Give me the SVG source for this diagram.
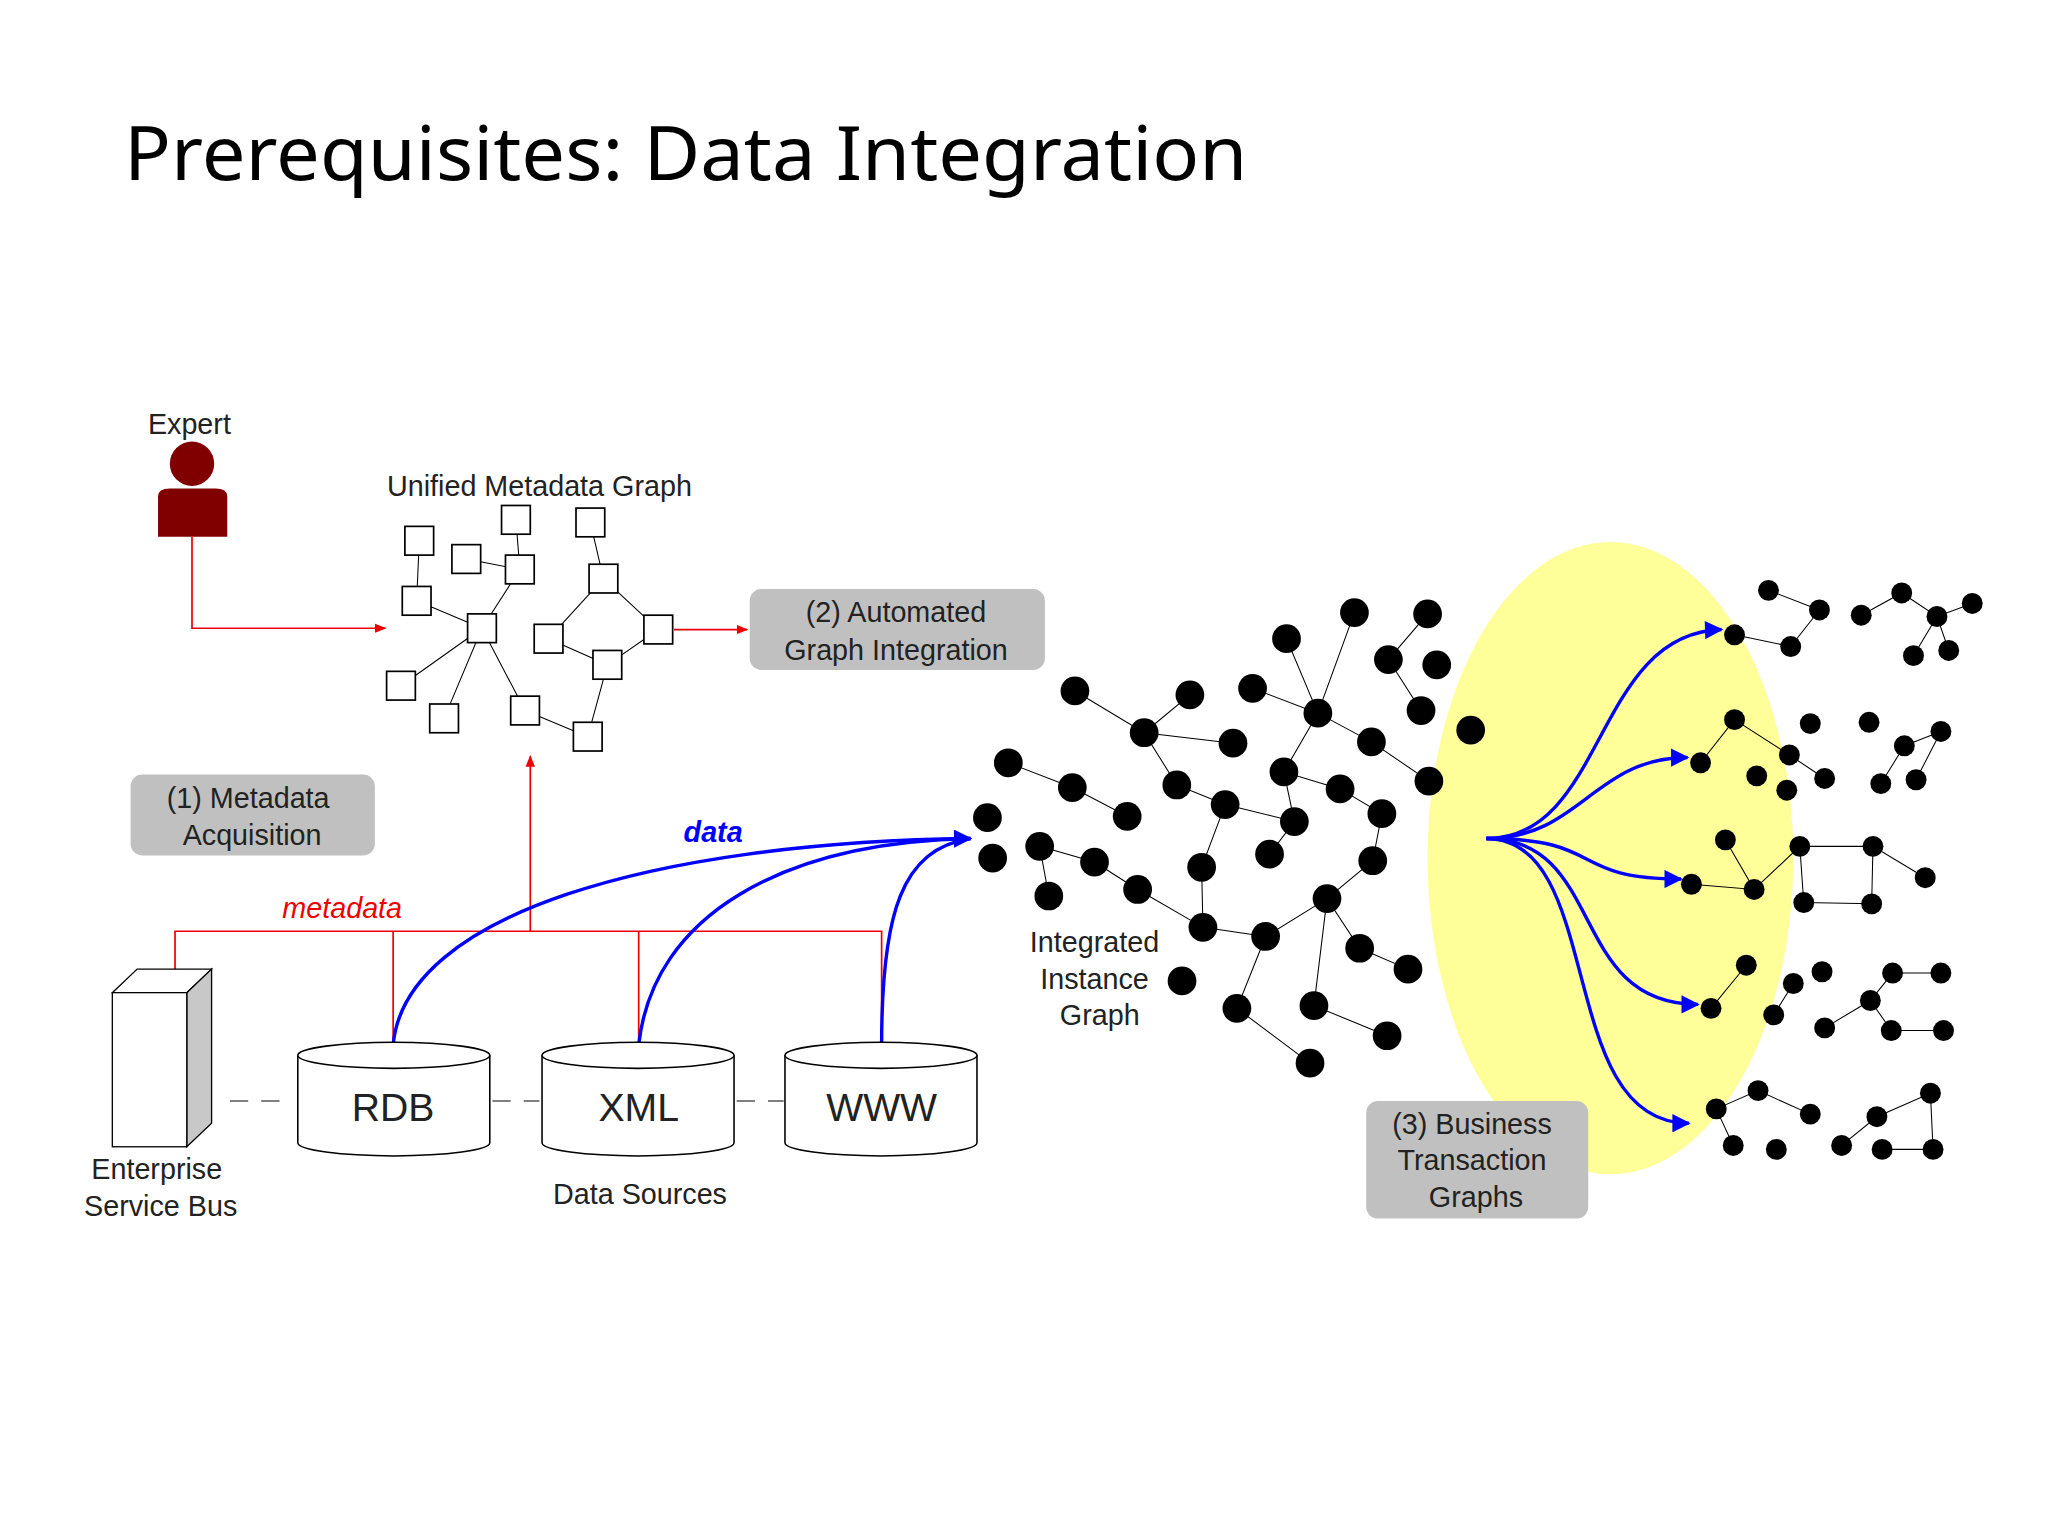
<svg xmlns="http://www.w3.org/2000/svg" width="2048" height="1536" viewBox="0 0 2048 1536">
<defs>
<style>
.t{font-family:"Liberation Sans",Arial,sans-serif;font-size:22px;fill:#222;text-anchor:middle}
.sq{fill:#fff;stroke:#000;stroke-width:1.3}
.e{stroke:#000;stroke-width:0.8;fill:none}
.red{stroke:#e00;stroke-width:1.3;fill:none}
.blue{stroke:#00f;stroke-width:2.6;fill:none}
.lbl{fill:#c0c0c0}
.n{fill:#000}
.cyl{fill:#fff;stroke:#000;stroke-width:1.2}
</style>
<marker id="ar" viewBox="0 0 10 10" refX="9" refY="5" markerWidth="9" markerHeight="9" markerUnits="userSpaceOnUse" orient="auto"><path d="M0,1 L10,5 L0,9 z" fill="#e00"/></marker>
<marker id="ab" viewBox="0 0 10 10" refX="9" refY="5" markerWidth="18" markerHeight="14" markerUnits="userSpaceOnUse" orient="auto"><path d="M0,0 L10,5 L0,10 z" fill="#00f"/></marker>
</defs>
<rect width="2048" height="1536" fill="#fff"/>
<g transform="scale(1.30612)">
<text x="95" y="138" font-family="Noto Sans,Open Sans,sans-serif" font-size="58" fill="#000" textLength="860" lengthAdjust="spacingAndGlyphs">Prerequisites: Data Integration</text>

<ellipse id="yellow" cx="1233" cy="657" rx="140" ry="242" fill="#ffff99"/>

<g id="expert">
<text class="t" x="145" y="332">Expert</text>
<circle cx="147" cy="355" r="17" fill="#800000"/>
<path d="M121,411 V380 Q121,374 130,374 H165 Q174,374 174,380 V411 Z" fill="#800000"/>
</g>

<g id="connectors">
<path class="red" d="M147,411 V481 H295" marker-end="url(#ar)"/>
<path class="red" d="M516,482 H572" marker-end="url(#ar)"/>
<path class="red" d="M134,742 V713 H675 V800 M301,713 V800 M489,713 V800"/>
<path class="red" d="M406,713 V579" marker-end="url(#ar)"/>
<path class="blue" d="M301,800 C310,700 500,645 743,642" marker-end="url(#ab)"/>
<path class="blue" d="M489,800 C500,700 600,645 743,642"/>
<path class="blue" d="M675,800 C675,700 690,650 743,642"/>
<g class="e" stroke-dasharray="14,10"><path d="M176,843 H220 M377,843 H413 M564,843 H600"/></g>
<g class="blue" stroke-width="2.2">
<path d="M1138,642 C1230,642 1220,485 1318,482" marker-end="url(#ab)"/>
<path d="M1138,642 C1210,642 1220,580 1292,580" marker-end="url(#ab)"/>
<path d="M1138,642 C1230,642 1200,673 1287,673" marker-end="url(#ab)"/>
<path d="M1138,642 C1230,642 1200,769 1300,769" marker-end="url(#ab)"/>
<path d="M1138,642 C1230,642 1190,860 1293,860" marker-end="url(#ab)"/>
</g>
</g>
<text x="262" y="703" class="t" style="fill:#e00;font-style:italic">metadata</text>
<text x="546" y="645" class="t" style="fill:#00f;font-style:italic;font-weight:bold">data</text>

<g id="metadata-graph">
<text class="t" x="413" y="380">Unified Metadata Graph</text>
<path class="e" d="M321,414 L319,460 M357,428 L398,436 M395,398 L398,436 M398,436 L369,481 M319,460 L369,481 M369,481 L307,525 M369,481 L340,550 M369,481 L402,544 M402,544 L450,564 M450,564 L465,509 M452,400 L462,443 M462,443 L420,489 M462,443 L504,482 M420,489 L465,509 M504,482 L465,509"/>
<g class="sq">
<rect x="310" y="403" width="22" height="22"/><rect x="384" y="387" width="22" height="22"/><rect x="441" y="389" width="22" height="22"/>
<rect x="346" y="417" width="22" height="22"/><rect x="387" y="425" width="22" height="22"/><rect x="451" y="432" width="22" height="22"/>
<rect x="308" y="449" width="22" height="22"/><rect x="358" y="470" width="22" height="22"/><rect x="409" y="478" width="22" height="22"/>
<rect x="493" y="471" width="22" height="22"/><rect x="454" y="498" width="22" height="22"/><rect x="296" y="514" width="22" height="22"/>
<rect x="329" y="539" width="22" height="22"/><rect x="391" y="533" width="22" height="22"/><rect x="439" y="553" width="22" height="22"/>
</g>
</g>

<g id="box2"><rect class="lbl" x="574" y="451" width="226" height="62" rx="9"/>
<text class="t" x="686" y="476">(2) Automated</text><text class="t" x="686" y="505">Graph Integration</text></g>
<g id="box1"><rect class="lbl" x="100" y="593" width="187" height="62" rx="9"/>
<text class="t" x="190" y="619">(1) Metadata</text><text class="t" x="193" y="647">Acquisition</text></g>
<g id="box3"><rect class="lbl" x="1046" y="843" width="170" height="90" rx="9"/>
<text class="t" x="1127" y="868">(3) Business</text><text class="t" x="1127" y="896">Transaction</text><text class="t" x="1130" y="924">Graphs</text></g>

<g id="esb">
<path d="M86,760 L105,742 H162 L143,760 Z" fill="#fff" stroke="#000"/>
<path d="M143,760 L162,742 V860 L143,878 Z" fill="#c8c8c8" stroke="#000"/>
<rect x="86" y="760" width="57" height="118" fill="#fff" stroke="#000"/>
<text class="t" x="120" y="903">Enterprise</text><text class="t" x="123" y="931">Service Bus</text>
</g>

<g id="rdb"><path class="cyl" d="M228,808 V875 A73.5,10 0 0 0 375,875 V808"/><ellipse class="cyl" cx="301.5" cy="808" rx="73.5" ry="10"/><text class="t" x="301" y="858" style="font-size:30px">RDB</text></g>
<g id="xml"><path class="cyl" d="M415,808 V875 A73.5,10 0 0 0 562,875 V808"/><ellipse class="cyl" cx="488.5" cy="808" rx="73.5" ry="10"/><text class="t" x="489" y="858" style="font-size:30px">XML</text></g>
<g id="www"><path class="cyl" d="M601,808 V875 A73.5,10 0 0 0 748,875 V808"/><ellipse class="cyl" cx="674.5" cy="808" rx="73.5" ry="10"/><text class="t" x="675" y="858" style="font-size:30px">WWW</text></g>
<text class="t" x="490" y="922">Data Sources</text>

<g id="instance-graph">
<path class="e" d="M823,529 L876,561 L944,569 M876,561 L901,601 M959,527 L1009,546 M985,489 L1009,546 M1037,469 L1009,546 M1093,470 L1063,505 L1088,544 M1009,546 L1050,568 L1094,598 M1009,546 L983,591 L1026,604 L1058,623 L1051,659 L1016,688 M983,591 L991,629 L972,654 M772,584 L821,603 L863,625 M796,648 L838,660 L871,681 M796,648 L803,686 M901,601 L938,616 L920,664 L921,710 M871,681 L921,710 L969,717 L1016,688 L1041,726 L1078,742 M969,717 L947,772 L1003,814 M1016,688 L1006,770 L1062,793 M938,616 L991,629 M911,532 L876,561"/>
<g class="n">
<circle cx="823" cy="529" r="11"/><circle cx="876" cy="561" r="11"/><circle cx="911" cy="532" r="11"/><circle cx="944" cy="569" r="11"/><circle cx="959" cy="527" r="11"/><circle cx="985" cy="489" r="11"/><circle cx="1009" cy="546" r="11"/><circle cx="1037" cy="469" r="11"/><circle cx="1093" cy="470" r="11"/><circle cx="1063" cy="505" r="11"/><circle cx="1100" cy="509" r="11"/><circle cx="1088" cy="544" r="11"/><circle cx="1050" cy="568" r="11"/><circle cx="1126" cy="559" r="11"/><circle cx="1094" cy="598" r="11"/><circle cx="772" cy="584" r="11"/><circle cx="821" cy="603" r="11"/><circle cx="863" cy="625" r="11"/><circle cx="901" cy="601" r="11"/><circle cx="938" cy="616" r="11"/><circle cx="983" cy="591" r="11"/><circle cx="1026" cy="604" r="11"/><circle cx="991" cy="629" r="11"/><circle cx="1058" cy="623" r="11"/><circle cx="756" cy="626" r="11"/><circle cx="760" cy="657" r="11"/><circle cx="796" cy="648" r="11"/><circle cx="838" cy="660" r="11"/><circle cx="803" cy="686" r="11"/><circle cx="871" cy="681" r="11"/><circle cx="920" cy="664" r="11"/><circle cx="972" cy="654" r="11"/><circle cx="1051" cy="659" r="11"/><circle cx="1016" cy="688" r="11"/><circle cx="921" cy="710" r="11"/><circle cx="969" cy="717" r="11"/><circle cx="1041" cy="726" r="11"/><circle cx="1078" cy="742" r="11"/><circle cx="905" cy="751" r="11"/><circle cx="947" cy="772" r="11"/><circle cx="1006" cy="770" r="11"/><circle cx="1062" cy="793" r="11"/><circle cx="1003" cy="814" r="11"/>
</g>
<text class="t" x="838" y="729">Integrated</text><text class="t" x="838" y="757">Instance</text><text class="t" x="842" y="785">Graph</text>
</g>

<g id="transaction-graphs">
<path class="e" d="M1354,452 L1393,467 L1371,495 L1328,486 M1425,471 L1456,454 L1483,472 L1510,462 M1483,472 L1465,502 M1483,472 L1492,498 M1328,551 L1370,578 L1397,596 M1302,584 L1328,551 M1458,571 L1486,560 L1467,597 M1458,571 L1440,600 M1321,643 L1343,681 L1295,677 M1343,681 L1378,648 L1434,648 L1474,672 M1434,648 L1433,692 L1381,691 L1378,648 M1310,772 L1337,739 M1358,777 L1373,753 M1397,787 L1432,766 L1449,745 L1486,745 M1432,766 L1448,789 L1488,789 M1314,849 L1346,835 L1386,853 M1410,877 L1437,855 L1478,837 L1480,880 M1314,849 L1327,877 M1441,880 L1480,880"/>
<g class="n">
<circle cx="1354" cy="452" r="8"/><circle cx="1393" cy="467" r="8"/><circle cx="1425" cy="471" r="8"/><circle cx="1456" cy="454" r="8"/><circle cx="1483" cy="472" r="8"/><circle cx="1510" cy="462" r="8"/><circle cx="1328" cy="486" r="8"/><circle cx="1371" cy="495" r="8"/><circle cx="1465" cy="502" r="8"/><circle cx="1492" cy="498" r="8"/>
<circle cx="1328" cy="551" r="8"/><circle cx="1386" cy="554" r="8"/><circle cx="1431" cy="553" r="8"/><circle cx="1486" cy="560" r="8"/><circle cx="1302" cy="584" r="8"/><circle cx="1370" cy="578" r="8"/><circle cx="1345" cy="594" r="8"/><circle cx="1368" cy="605" r="8"/><circle cx="1397" cy="596" r="8"/><circle cx="1440" cy="600" r="8"/><circle cx="1458" cy="571" r="8"/><circle cx="1467" cy="597" r="8"/>
<circle cx="1321" cy="643" r="8"/><circle cx="1378" cy="648" r="8"/><circle cx="1434" cy="648" r="8"/><circle cx="1474" cy="672" r="8"/><circle cx="1295" cy="677" r="8"/><circle cx="1343" cy="681" r="8"/><circle cx="1381" cy="691" r="8"/><circle cx="1433" cy="692" r="8"/>
<circle cx="1337" cy="739" r="8"/><circle cx="1395" cy="744" r="8"/><circle cx="1449" cy="745" r="8"/><circle cx="1486" cy="745" r="8"/><circle cx="1373" cy="753" r="8"/><circle cx="1310" cy="772" r="8"/><circle cx="1358" cy="777" r="8"/><circle cx="1397" cy="787" r="8"/><circle cx="1432" cy="766" r="8"/><circle cx="1448" cy="789" r="8"/><circle cx="1488" cy="789" r="8"/>
<circle cx="1346" cy="835" r="8"/><circle cx="1386" cy="853" r="8"/><circle cx="1437" cy="855" r="8"/><circle cx="1478" cy="837" r="8"/><circle cx="1314" cy="849" r="8"/><circle cx="1327" cy="877" r="8"/><circle cx="1360" cy="880" r="8"/><circle cx="1410" cy="877" r="8"/><circle cx="1441" cy="880" r="8"/><circle cx="1480" cy="880" r="8"/>
</g>
</g>
</g>
</svg>
